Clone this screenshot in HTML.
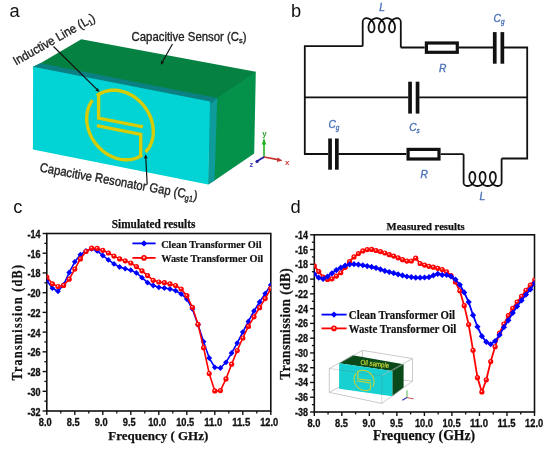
<!DOCTYPE html>
<html><head><meta charset="utf-8"><title>Figure</title>
<style>html,body{margin:0;padding:0;background:#fff;} svg{display:block;}</style></head>
<body><svg width="550" height="451" viewBox="0 0 550 451">
<rect width="550" height="451" fill="#fff"/>
<text x="9.6" y="17" font-family="'Liberation Sans', Arial, sans-serif" font-size="18.3" fill="#111">a</text>
<text x="291" y="17" font-family="'Liberation Sans', Arial, sans-serif" font-size="18.3" fill="#111">b</text>
<text x="13.2" y="212.8" font-family="'Liberation Sans', Arial, sans-serif" font-size="18.3" fill="#111">c</text>
<text x="290.6" y="212.8" font-family="'Liberation Sans', Arial, sans-serif" font-size="18.3" fill="#111">d</text>
<polygon points="208.2,184.6 210,101.4 214,96.4 250,72.6 255.8,71.8 254.2,153.6 214.6,180.6" fill="#04924a"/>
<polygon points="33.1,66.8 40.4,63.2 81.3,39.2 255.8,71.8 217.2,97.9 210,101.4" fill="#058242"/>
<polygon points="209,102 210,101.4 217.2,97.9 214.6,180.6 208.2,184.6" fill="#0d9b9b"/>
<polygon points="33.1,66.8 40.4,63.2 217.2,97.9 212,103 33.1,69" fill="#0b8083"/>
<polygon points="33.1,66.8 210,101.4 208.2,184.6 32.9,149.5" fill="#02d3d5"/>
<g fill="none" stroke="#d6cc08" stroke-width="3.4" stroke-linejoin="miter" stroke-linecap="butt">
<path d="M96.87,95.84 L98.11,94.91 L99.41,94.06 L100.76,93.29 L102.16,92.61 L103.61,92 L105.09,91.48 L106.62,91.05 L108.18,90.7 L109.77,90.44 L111.39,90.27 L113.02,90.18 L114.68,90.19 L116.35,90.29 L118.03,90.47 L119.71,90.74 L121.4,91.11 L123.08,91.55 L124.75,92.09 L126.42,92.7 L128.06,93.4 L129.68,94.19 L131.28,95.05 L132.85,95.98 L134.39,96.99 L135.89,98.08 L137.35,99.23 L138.77,100.45 L140.14,101.73 L141.45,103.07 L142.71,104.46 L143.92,105.91 L145.06,107.41 L146.13,108.95 L147.15,110.54 L148.09,112.16 L148.96,113.81 L149.75,115.5 L150.47,117.2 L151.11,118.93 L151.67,120.67 L152.15,122.43 L152.55,124.19 L152.86,125.95 L153.09,127.71 L153.24,129.46 L153.3,131.2 L153.27,132.93 L153.16,134.63 L152.97,136.31 L152.69,137.97 L152.32,139.58 L151.88,141.17 L151.35,142.71 L150.74,144.2 L150.06,145.64 L149.29,147.04 L148.45,148.37 L147.54,149.65 L146.56,150.86 L145.51,152.01"/>
<path d="M98.6,93.58 L98.6,118.18 L143,126.93"/>
<path d="M96.8,125.63 L140.7,134.28 L140.7,156.87"/>
<path d="M92.56,100.22 L91.68,101.43 L90.87,102.7 L90.12,104.01 L89.45,105.38 L88.84,106.79 L88.31,108.24 L87.86,109.73 L87.47,111.26 L87.17,112.82 L86.94,114.41 L86.78,116.02 L86.71,117.66 L86.71,119.31 L86.79,120.97 L86.95,122.65 L87.18,124.33 L87.49,126.01 L87.88,127.68 L88.34,129.36 L88.87,131.02 L89.48,132.67 L90.16,134.3 L90.91,135.91 L91.72,137.49 L92.6,139.04 L93.55,140.56 L94.55,142.05 L95.62,143.49 L96.74,144.9 L97.92,146.25 L99.15,147.56 L100.43,148.81 L101.75,150.01 L103.11,151.15 L104.52,152.23 L105.96,153.24 L107.43,154.19 L108.93,155.08 L110.46,155.89 L112.01,156.63 L113.58,157.29 L115.17,157.89 L116.76,158.4 L118.36,158.84 L119.97,159.19 L121.58,159.47 L123.18,159.67 L124.78,159.79 L126.36,159.82 L127.93,159.78 L129.48,159.65 L131.01,159.45 L132.52,159.16 L133.99,158.79 L135.43,158.35 L136.84,157.82 L138.2,157.22 L139.53,156.55 L140.81,155.8 L142.04,154.98"/>
</g>
<line x1="53.5" y1="46.5" x2="96.66" y2="89.19" stroke="#111" stroke-width="1.2"/>
<polygon points="99.5,92 95.39,90.47 97.92,87.91" fill="#111"/>
<line x1="172.5" y1="44" x2="162.76" y2="61.31" stroke="#111" stroke-width="1.2"/>
<polygon points="160.8,64.8 161.19,60.43 164.33,62.2" fill="#111"/>
<line x1="147.2" y1="184.5" x2="145.81" y2="158.29" stroke="#111" stroke-width="1.2"/>
<polygon points="145.6,154.3 147.61,158.2 144.01,158.39" fill="#111"/>
<text transform="translate(16.0,65.6) rotate(-29.5)" font-family="'Liberation Sans', Arial, sans-serif" font-size="12.5" fill="#222" stroke="#222" stroke-width="0.35" textLength="92" lengthAdjust="spacingAndGlyphs">Inductive Line (L<tspan font-size="8" dy="2">1</tspan><tspan dy="-2">)</tspan></text>
<text x="131.5" y="41.2" font-family="'Liberation Sans', Arial, sans-serif" font-size="12.4" fill="#222" stroke="#222" stroke-width="0.35" textLength="115" lengthAdjust="spacingAndGlyphs">Capacitive Sensor (C<tspan font-size="8" dy="2">s</tspan><tspan dy="-2">)</tspan></text>
<text transform="translate(39.2,171.6) rotate(10.3)" font-family="'Liberation Sans', Arial, sans-serif" font-size="13" fill="#222" stroke="#222" stroke-width="0.35" textLength="160" lengthAdjust="spacingAndGlyphs">Capacitive Resonator Gap (C<tspan font-size="8.5" dy="2.5">g1</tspan><tspan dy="-2.5">)</tspan></text>
<g>
<line x1="264" y1="157" x2="264" y2="144" stroke="#22b022" stroke-width="1.6"/>
<polygon points="264,137.8 261.8,144.5 266.2,144.5" fill="#22b022"/>
<line x1="264" y1="157" x2="278" y2="159.6" stroke="#c83030" stroke-width="1.6"/>
<polygon points="282.5,160.5 277.5,157.6 277,162" fill="#c83030"/>
<line x1="264" y1="157" x2="257" y2="161.3" stroke="#2020a0" stroke-width="1.8"/>
<circle cx="257" cy="161.5" r="1.6" fill="#2020a0"/>
<text x="262.3" y="136.3" font-family="'Liberation Sans', Arial, sans-serif" font-size="8" font-weight="bold" fill="#30a030">y</text>
<text x="285" y="164.8" font-family="'Liberation Sans', Arial, sans-serif" font-size="8" font-weight="bold" fill="#d84040">x</text>
<text x="249.6" y="167.2" font-family="'Liberation Sans', Arial, sans-serif" font-size="7.5" font-weight="bold" fill="#4040d0">z</text>
</g>
<g fill="none" stroke="#111" stroke-width="1.8" stroke-linejoin="miter">
<path d="M362.7,46.2 L304.8,46.2 L304.8,154 L328.2,154"/>

<path d="M362.7,46.2 L362.7,21.88 C362.7,19.85 364.35,18.2 366.38,18.2 L366.92,18.22 L367.46,18.29 L368,18.39 L368.53,18.55 L369.04,18.74 L369.55,18.97 L370.04,19.24 L370.52,19.55 L370.97,19.89 L371.4,20.26 L371.81,20.67 L372.2,21.11 L372.56,21.57 L372.89,22.05 L373.19,22.55 L373.47,23.07 L373.71,23.6 L373.92,24.15 L374.09,24.7 L374.24,25.25 L374.35,25.8 L374.43,26.35 L374.48,26.9 L374.49,27.43 L374.47,27.95 L374.43,28.45 L374.35,28.93 L374.25,29.39 L374.12,29.83 L373.97,30.24 L373.79,30.61 L373.59,30.95 L373.37,31.26 L373.14,31.53 L372.89,31.76 L372.63,31.95 L372.35,32.11 L372.07,32.21 L371.79,32.28 L371.5,32.3 L371.21,32.28 L370.93,32.21 L370.65,32.11 L370.37,31.95 L370.11,31.76 L369.86,31.53 L369.63,31.26 L369.41,30.95 L369.21,30.61 L369.03,30.24 L368.88,29.83 L368.75,29.39 L368.65,28.93 L368.57,28.45 L368.53,27.95 L368.51,27.43 L368.52,26.9 L368.57,26.35 L368.65,25.8 L368.76,25.25 L368.91,24.7 L369.08,24.15 L369.29,23.6 L369.53,23.07 L369.81,22.55 L370.11,22.05 L370.44,21.57 L370.8,21.11 L371.19,20.67 L371.6,20.26 L372.03,19.89 L372.48,19.55 L372.96,19.24 L373.45,18.97 L373.96,18.74 L374.47,18.55 L375,18.39 L375.54,18.29 L376.08,18.22 L376.62,18.2 L377.17,18.22 L377.71,18.29 L378.25,18.39 L378.78,18.55 L379.29,18.74 L379.8,18.97 L380.29,19.24 L380.77,19.55 L381.22,19.89 L381.65,20.26 L382.06,20.67 L382.45,21.11 L382.81,21.57 L383.14,22.05 L383.44,22.55 L383.72,23.07 L383.96,23.6 L384.17,24.15 L384.34,24.7 L384.49,25.25 L384.6,25.8 L384.68,26.35 L384.73,26.9 L384.74,27.43 L384.72,27.95 L384.68,28.45 L384.6,28.93 L384.5,29.39 L384.37,29.83 L384.22,30.24 L384.04,30.61 L383.84,30.95 L383.62,31.26 L383.39,31.53 L383.14,31.76 L382.88,31.95 L382.6,32.11 L382.32,32.21 L382.04,32.28 L381.75,32.3 L381.46,32.28 L381.18,32.21 L380.9,32.11 L380.62,31.95 L380.36,31.76 L380.11,31.53 L379.88,31.26 L379.66,30.95 L379.46,30.61 L379.28,30.24 L379.13,29.83 L379,29.39 L378.9,28.93 L378.82,28.45 L378.78,27.95 L378.76,27.43 L378.77,26.9 L378.82,26.35 L378.9,25.8 L379.01,25.25 L379.16,24.7 L379.33,24.15 L379.54,23.6 L379.78,23.07 L380.06,22.55 L380.36,22.05 L380.69,21.57 L381.05,21.11 L381.44,20.67 L381.85,20.26 L382.28,19.89 L382.73,19.55 L383.21,19.24 L383.7,18.97 L384.21,18.74 L384.72,18.55 L385.25,18.39 L385.79,18.29 L386.33,18.22 L386.88,18.2 L387.42,18.22 L387.96,18.29 L388.5,18.39 L389.03,18.55 L389.54,18.74 L390.05,18.97 L390.54,19.24 L391.02,19.55 L391.47,19.89 L391.9,20.26 L392.31,20.67 L392.7,21.11 L393.06,21.57 L393.39,22.05 L393.69,22.55 L393.97,23.07 L394.21,23.6 L394.42,24.15 L394.59,24.7 L394.74,25.25 L394.85,25.8 L394.93,26.35 L394.98,26.9 L394.99,27.43 L394.97,27.95 L394.93,28.45 L394.85,28.93 L394.75,29.39 L394.62,29.83 L394.47,30.24 L394.29,30.61 L394.09,30.95 L393.87,31.26 L393.64,31.53 L393.39,31.76 L393.13,31.95 L392.85,32.11 L392.57,32.21 L392.29,32.28 L392,32.3 L391.71,32.28 L391.43,32.21 L391.15,32.11 L390.87,31.95 L390.61,31.76 L390.36,31.53 L390.13,31.26 L389.91,30.95 L389.71,30.61 L389.53,30.24 L389.38,29.83 L389.25,29.39 L389.15,28.93 L389.07,28.45 L389.03,27.95 L389.01,27.43 L389.02,26.9 L389.07,26.35 L389.15,25.8 L389.26,25.25 L389.41,24.7 L389.58,24.15 L389.79,23.6 L390.03,23.07 L390.31,22.55 L390.61,22.05 L390.94,21.57 L391.3,21.11 L391.69,20.67 L392.1,20.26 L392.53,19.89 L392.98,19.55 L393.46,19.24 L393.95,18.97 L394.46,18.74 L394.97,18.55 L395.5,18.39 L396.04,18.29 L396.58,18.22 L397.12,18.2 C399.15,18.2 400.8,19.85 400.8,21.88 L400.8,47.5"/>
<path d="M400.8,47.5 L424.7,47.5 M459,47.5 L493.5,47.5 M504,47.5 L527.2,47.5 L527.2,158.5 L501.6,158.5"/>
<path d="M304.8,97.4 L408.5,97.4 M419.2,97.4 L527.2,97.4"/>
<path d="M338.4,154 L406.4,154 M440.7,154.2 L463.6,154.2"/>
<path d="M463.6,154.2 L463.6,182.38 C463.6,184.38 465.22,186 467.23,186 L467.77,185.98 L468.31,185.91 L468.85,185.81 L469.38,185.65 L469.89,185.46 L470.4,185.23 L470.89,184.96 L471.37,184.65 L471.82,184.31 L472.25,183.94 L472.66,183.53 L473.05,183.09 L473.41,182.63 L473.74,182.15 L474.04,181.65 L474.32,181.13 L474.56,180.6 L474.77,180.05 L474.94,179.5 L475.09,178.95 L475.2,178.4 L475.28,177.85 L475.33,177.3 L475.34,176.77 L475.32,176.25 L475.28,175.75 L475.2,175.27 L475.1,174.81 L474.97,174.37 L474.82,173.96 L474.64,173.59 L474.44,173.25 L474.22,172.94 L473.99,172.67 L473.74,172.44 L473.48,172.25 L473.2,172.09 L472.92,171.99 L472.64,171.92 L472.35,171.9 L472.06,171.92 L471.78,171.99 L471.5,172.09 L471.22,172.25 L470.96,172.44 L470.71,172.67 L470.48,172.94 L470.26,173.25 L470.06,173.59 L469.88,173.96 L469.73,174.37 L469.6,174.81 L469.5,175.27 L469.42,175.75 L469.38,176.25 L469.36,176.77 L469.37,177.3 L469.42,177.85 L469.5,178.4 L469.61,178.95 L469.76,179.5 L469.93,180.05 L470.14,180.6 L470.38,181.13 L470.66,181.65 L470.96,182.15 L471.29,182.63 L471.65,183.09 L472.04,183.53 L472.45,183.94 L472.88,184.31 L473.33,184.65 L473.81,184.96 L474.3,185.23 L474.81,185.46 L475.32,185.65 L475.85,185.81 L476.39,185.91 L476.93,185.98 L477.48,186 L478.02,185.98 L478.56,185.91 L479.1,185.81 L479.63,185.65 L480.14,185.46 L480.65,185.23 L481.14,184.96 L481.62,184.65 L482.07,184.31 L482.5,183.94 L482.91,183.53 L483.3,183.09 L483.66,182.63 L483.99,182.15 L484.29,181.65 L484.57,181.13 L484.81,180.6 L485.02,180.05 L485.19,179.5 L485.34,178.95 L485.45,178.4 L485.53,177.85 L485.58,177.3 L485.59,176.77 L485.57,176.25 L485.53,175.75 L485.45,175.27 L485.35,174.81 L485.22,174.37 L485.07,173.96 L484.89,173.59 L484.69,173.25 L484.47,172.94 L484.24,172.67 L483.99,172.44 L483.73,172.25 L483.45,172.09 L483.17,171.99 L482.89,171.92 L482.6,171.9 L482.31,171.92 L482.03,171.99 L481.75,172.09 L481.47,172.25 L481.21,172.44 L480.96,172.67 L480.73,172.94 L480.51,173.25 L480.31,173.59 L480.13,173.96 L479.98,174.37 L479.85,174.81 L479.75,175.27 L479.67,175.75 L479.63,176.25 L479.61,176.77 L479.62,177.3 L479.67,177.85 L479.75,178.4 L479.86,178.95 L480.01,179.5 L480.18,180.05 L480.39,180.6 L480.63,181.13 L480.91,181.65 L481.21,182.15 L481.54,182.63 L481.9,183.09 L482.29,183.53 L482.7,183.94 L483.13,184.31 L483.58,184.65 L484.06,184.96 L484.55,185.23 L485.06,185.46 L485.57,185.65 L486.1,185.81 L486.64,185.91 L487.18,185.98 L487.73,186 L488.27,185.98 L488.81,185.91 L489.35,185.81 L489.88,185.65 L490.39,185.46 L490.9,185.23 L491.39,184.96 L491.87,184.65 L492.32,184.31 L492.75,183.94 L493.16,183.53 L493.55,183.09 L493.91,182.63 L494.24,182.15 L494.54,181.65 L494.82,181.13 L495.06,180.6 L495.27,180.05 L495.44,179.5 L495.59,178.95 L495.7,178.4 L495.78,177.85 L495.83,177.3 L495.84,176.77 L495.82,176.25 L495.78,175.75 L495.7,175.27 L495.6,174.81 L495.47,174.37 L495.32,173.96 L495.14,173.59 L494.94,173.25 L494.72,172.94 L494.49,172.67 L494.24,172.44 L493.98,172.25 L493.7,172.09 L493.42,171.99 L493.14,171.92 L492.85,171.9 L492.56,171.92 L492.28,171.99 L492,172.09 L491.72,172.25 L491.46,172.44 L491.21,172.67 L490.98,172.94 L490.76,173.25 L490.56,173.59 L490.38,173.96 L490.23,174.37 L490.1,174.81 L490,175.27 L489.92,175.75 L489.88,176.25 L489.86,176.77 L489.87,177.3 L489.92,177.85 L490,178.4 L490.11,178.95 L490.26,179.5 L490.43,180.05 L490.64,180.6 L490.88,181.13 L491.16,181.65 L491.46,182.15 L491.79,182.63 L492.15,183.09 L492.54,183.53 L492.95,183.94 L493.38,184.31 L493.83,184.65 L494.31,184.96 L494.8,185.23 L495.31,185.46 L495.82,185.65 L496.35,185.81 L496.89,185.91 L497.43,185.98 L497.98,186 C499.98,186 501.6,184.38 501.6,182.38 L501.6,158.5"/>
</g>
<rect x="426.4" y="43.0" width="30.9" height="9.3" fill="#fff" stroke="#111" stroke-width="3.2"/>
<rect x="408.1" y="149.4" width="30.9" height="9.6" fill="#fff" stroke="#111" stroke-width="3.2"/>
<rect x="492.9" y="32.1" width="3.7" height="31.6" fill="#111"/>
<rect x="500.5" y="32.1" width="3.7" height="31.6" fill="#111"/>
<rect x="408.2" y="81.7" width="3.7" height="31.9" fill="#111"/>
<rect x="415.7" y="81.7" width="3.7" height="31.9" fill="#111"/>
<rect x="328.2" y="138.5" width="3.7" height="31.2" fill="#111"/>
<rect x="335.0" y="138.5" width="3.7" height="31.2" fill="#111"/>
<text x="379.2" y="10.8" font-family="'Liberation Sans', Arial, sans-serif" font-style="italic" font-size="10.2" fill="#4a72b8" stroke="#4a72b8" stroke-width="0.35">L</text>
<text x="439.0" y="72.4" font-family="'Liberation Sans', Arial, sans-serif" font-style="italic" font-size="10.2" fill="#4a72b8" stroke="#4a72b8" stroke-width="0.35">R</text>
<text x="493.6" y="21.6" font-family="'Liberation Sans', Arial, sans-serif" font-style="italic" font-size="10.2" fill="#4a72b8" stroke="#4a72b8" stroke-width="0.35">C<tspan font-size="6.3" dy="2">g</tspan></text>
<text x="409.2" y="131.2" font-family="'Liberation Sans', Arial, sans-serif" font-style="italic" font-size="10.2" fill="#4a72b8" stroke="#4a72b8" stroke-width="0.35">C<tspan font-size="6.3" dy="2">s</tspan></text>
<text x="328.4" y="128.4" font-family="'Liberation Sans', Arial, sans-serif" font-style="italic" font-size="10.2" fill="#4a72b8" stroke="#4a72b8" stroke-width="0.35">C<tspan font-size="6.3" dy="2">g</tspan></text>
<text x="420.6" y="178.4" font-family="'Liberation Sans', Arial, sans-serif" font-style="italic" font-size="10.2" fill="#4a72b8" stroke="#4a72b8" stroke-width="0.35">R</text>
<text x="479.6" y="200.2" font-family="'Liberation Sans', Arial, sans-serif" font-style="italic" font-size="10.2" fill="#4a72b8" stroke="#4a72b8" stroke-width="0.35">L</text>
<line x1="42.6" y1="233.5" x2="46.8" y2="233.5" stroke="#111" stroke-width="1.4"/>
<text x="40.5" y="238" text-anchor="end" font-family="'Liberation Sans', Arial, sans-serif" font-weight="bold" font-size="10" fill="#111" stroke="#111" stroke-width="0.3" textLength="13.01" lengthAdjust="spacingAndGlyphs">-14</text>
<line x1="44.4" y1="243.36" x2="46.8" y2="243.36" stroke="#111" stroke-width="1.3"/>
<line x1="42.6" y1="253.22" x2="46.8" y2="253.22" stroke="#111" stroke-width="1.4"/>
<text x="40.5" y="257.72" text-anchor="end" font-family="'Liberation Sans', Arial, sans-serif" font-weight="bold" font-size="10" fill="#111" stroke="#111" stroke-width="0.3" textLength="13.01" lengthAdjust="spacingAndGlyphs">-16</text>
<line x1="44.4" y1="263.08" x2="46.8" y2="263.08" stroke="#111" stroke-width="1.3"/>
<line x1="42.6" y1="272.94" x2="46.8" y2="272.94" stroke="#111" stroke-width="1.4"/>
<text x="40.5" y="277.44" text-anchor="end" font-family="'Liberation Sans', Arial, sans-serif" font-weight="bold" font-size="10" fill="#111" stroke="#111" stroke-width="0.3" textLength="13.01" lengthAdjust="spacingAndGlyphs">-18</text>
<line x1="44.4" y1="282.81" x2="46.8" y2="282.81" stroke="#111" stroke-width="1.3"/>
<line x1="42.6" y1="292.67" x2="46.8" y2="292.67" stroke="#111" stroke-width="1.4"/>
<text x="40.5" y="297.17" text-anchor="end" font-family="'Liberation Sans', Arial, sans-serif" font-weight="bold" font-size="10" fill="#111" stroke="#111" stroke-width="0.3" textLength="13.01" lengthAdjust="spacingAndGlyphs">-20</text>
<line x1="44.4" y1="302.53" x2="46.8" y2="302.53" stroke="#111" stroke-width="1.3"/>
<line x1="42.6" y1="312.39" x2="46.8" y2="312.39" stroke="#111" stroke-width="1.4"/>
<text x="40.5" y="316.89" text-anchor="end" font-family="'Liberation Sans', Arial, sans-serif" font-weight="bold" font-size="10" fill="#111" stroke="#111" stroke-width="0.3" textLength="13.01" lengthAdjust="spacingAndGlyphs">-22</text>
<line x1="44.4" y1="322.25" x2="46.8" y2="322.25" stroke="#111" stroke-width="1.3"/>
<line x1="42.6" y1="332.11" x2="46.8" y2="332.11" stroke="#111" stroke-width="1.4"/>
<text x="40.5" y="336.61" text-anchor="end" font-family="'Liberation Sans', Arial, sans-serif" font-weight="bold" font-size="10" fill="#111" stroke="#111" stroke-width="0.3" textLength="13.01" lengthAdjust="spacingAndGlyphs">-24</text>
<line x1="44.4" y1="341.97" x2="46.8" y2="341.97" stroke="#111" stroke-width="1.3"/>
<line x1="42.6" y1="351.83" x2="46.8" y2="351.83" stroke="#111" stroke-width="1.4"/>
<text x="40.5" y="356.33" text-anchor="end" font-family="'Liberation Sans', Arial, sans-serif" font-weight="bold" font-size="10" fill="#111" stroke="#111" stroke-width="0.3" textLength="13.01" lengthAdjust="spacingAndGlyphs">-26</text>
<line x1="44.4" y1="361.69" x2="46.8" y2="361.69" stroke="#111" stroke-width="1.3"/>
<line x1="42.6" y1="371.56" x2="46.8" y2="371.56" stroke="#111" stroke-width="1.4"/>
<text x="40.5" y="376.06" text-anchor="end" font-family="'Liberation Sans', Arial, sans-serif" font-weight="bold" font-size="10" fill="#111" stroke="#111" stroke-width="0.3" textLength="13.01" lengthAdjust="spacingAndGlyphs">-28</text>
<line x1="44.4" y1="381.42" x2="46.8" y2="381.42" stroke="#111" stroke-width="1.3"/>
<line x1="42.6" y1="391.28" x2="46.8" y2="391.28" stroke="#111" stroke-width="1.4"/>
<text x="40.5" y="395.78" text-anchor="end" font-family="'Liberation Sans', Arial, sans-serif" font-weight="bold" font-size="10" fill="#111" stroke="#111" stroke-width="0.3" textLength="13.01" lengthAdjust="spacingAndGlyphs">-30</text>
<line x1="44.4" y1="401.14" x2="46.8" y2="401.14" stroke="#111" stroke-width="1.3"/>
<line x1="42.6" y1="411" x2="46.8" y2="411" stroke="#111" stroke-width="1.4"/>
<text x="40.5" y="415.5" text-anchor="end" font-family="'Liberation Sans', Arial, sans-serif" font-weight="bold" font-size="10" fill="#111" stroke="#111" stroke-width="0.3" textLength="13.01" lengthAdjust="spacingAndGlyphs">-32</text>
<line x1="46.8" y1="411" x2="46.8" y2="415" stroke="#111" stroke-width="1.4"/>
<text x="45.2" y="426" text-anchor="middle" font-family="'Liberation Sans', Arial, sans-serif" font-weight="bold" font-size="10" fill="#111" stroke="#111" stroke-width="0.3" textLength="12.93" lengthAdjust="spacingAndGlyphs">8.0</text>
<line x1="60.8" y1="411" x2="60.8" y2="413.4" stroke="#111" stroke-width="1.3"/>
<line x1="74.8" y1="411" x2="74.8" y2="415" stroke="#111" stroke-width="1.4"/>
<text x="73.2" y="426" text-anchor="middle" font-family="'Liberation Sans', Arial, sans-serif" font-weight="bold" font-size="10" fill="#111" stroke="#111" stroke-width="0.3" textLength="12.93" lengthAdjust="spacingAndGlyphs">8.5</text>
<line x1="88.8" y1="411" x2="88.8" y2="413.4" stroke="#111" stroke-width="1.3"/>
<line x1="102.8" y1="411" x2="102.8" y2="415" stroke="#111" stroke-width="1.4"/>
<text x="101.2" y="426" text-anchor="middle" font-family="'Liberation Sans', Arial, sans-serif" font-weight="bold" font-size="10" fill="#111" stroke="#111" stroke-width="0.3" textLength="12.93" lengthAdjust="spacingAndGlyphs">9.0</text>
<line x1="116.8" y1="411" x2="116.8" y2="413.4" stroke="#111" stroke-width="1.3"/>
<line x1="130.8" y1="411" x2="130.8" y2="415" stroke="#111" stroke-width="1.4"/>
<text x="129.2" y="426" text-anchor="middle" font-family="'Liberation Sans', Arial, sans-serif" font-weight="bold" font-size="10" fill="#111" stroke="#111" stroke-width="0.3" textLength="12.93" lengthAdjust="spacingAndGlyphs">9.5</text>
<line x1="144.8" y1="411" x2="144.8" y2="413.4" stroke="#111" stroke-width="1.3"/>
<line x1="158.8" y1="411" x2="158.8" y2="415" stroke="#111" stroke-width="1.4"/>
<text x="157.2" y="426" text-anchor="middle" font-family="'Liberation Sans', Arial, sans-serif" font-weight="bold" font-size="10" fill="#111" stroke="#111" stroke-width="0.3" textLength="18.1" lengthAdjust="spacingAndGlyphs">10.0</text>
<line x1="172.8" y1="411" x2="172.8" y2="413.4" stroke="#111" stroke-width="1.3"/>
<line x1="186.8" y1="411" x2="186.8" y2="415" stroke="#111" stroke-width="1.4"/>
<text x="185.2" y="426" text-anchor="middle" font-family="'Liberation Sans', Arial, sans-serif" font-weight="bold" font-size="10" fill="#111" stroke="#111" stroke-width="0.3" textLength="18.1" lengthAdjust="spacingAndGlyphs">10.5</text>
<line x1="200.8" y1="411" x2="200.8" y2="413.4" stroke="#111" stroke-width="1.3"/>
<line x1="214.8" y1="411" x2="214.8" y2="415" stroke="#111" stroke-width="1.4"/>
<text x="213.2" y="426" text-anchor="middle" font-family="'Liberation Sans', Arial, sans-serif" font-weight="bold" font-size="10" fill="#111" stroke="#111" stroke-width="0.3" textLength="18.1" lengthAdjust="spacingAndGlyphs">11.0</text>
<line x1="228.8" y1="411" x2="228.8" y2="413.4" stroke="#111" stroke-width="1.3"/>
<line x1="242.8" y1="411" x2="242.8" y2="415" stroke="#111" stroke-width="1.4"/>
<text x="241.2" y="426" text-anchor="middle" font-family="'Liberation Sans', Arial, sans-serif" font-weight="bold" font-size="10" fill="#111" stroke="#111" stroke-width="0.3" textLength="18.1" lengthAdjust="spacingAndGlyphs">11.5</text>
<line x1="256.8" y1="411" x2="256.8" y2="413.4" stroke="#111" stroke-width="1.3"/>
<line x1="270.8" y1="411" x2="270.8" y2="415" stroke="#111" stroke-width="1.4"/>
<text x="269.2" y="426" text-anchor="middle" font-family="'Liberation Sans', Arial, sans-serif" font-weight="bold" font-size="10" fill="#111" stroke="#111" stroke-width="0.3" textLength="18.1" lengthAdjust="spacingAndGlyphs">12.0</text>
<rect x="46.8" y="233.5" width="224" height="177.5" fill="none" stroke="#111" stroke-width="1.6"/>
<text x="111.8" y="227.6" font-family="'Liberation Serif', 'Times New Roman', serif" font-weight="bold" font-size="12" fill="#111" stroke="#111" stroke-width="0.25" textLength="83.5" lengthAdjust="spacingAndGlyphs">Simulated results</text>
<text x="108.3" y="440.2" font-family="'Liberation Serif', 'Times New Roman', serif" font-weight="bold" font-size="13.5" fill="#111" stroke="#111" stroke-width="0.25" textLength="100" lengthAdjust="spacingAndGlyphs">Frequency ( GHz)</text>
<text transform="translate(22.3,322.8) rotate(-90) scale(0.86,1)" text-anchor="middle" font-family="'Liberation Serif', 'Times New Roman', serif" font-weight="bold" font-size="14" fill="#111" stroke="#111" stroke-width="0.25" textLength="134.3" lengthAdjust="spacing">Transmission (dB)</text>
<clipPath id="cc"><rect x="46.8" y="233.5" width="224" height="177.5"/></clipPath>
<g clip-path="url(#cc)">
<path d="M46.8,280.5 L52.4,288.2 L58,291.3 L63.6,284.8 L69.2,272.5 L74.8,261.8 L80.4,254.7 L86,250.9 L91.6,248.8 L97.2,250.9 L102.8,255.5 L108.4,259.9 L114,263.9 L119.6,267 L125.2,268.7 L130.8,270.2 L136.4,272.9 L142,277.7 L147.6,282.7 L153.2,285.5 L158.8,287.3 L164.4,288 L170,289 L175.6,290.7 L181.2,294 L186.8,299 L192.4,308.9 L198,324.8 L203.6,341.7 L209.2,358 L214.8,367.3 L220.4,368 L226,362.3 L231.6,353 L237.2,343.1 L242.8,332.1 L248.4,321.4 L254,311 L259.6,302 L265.2,293.6 L270.8,285" fill="none" stroke="#0000ff" stroke-width="1.6" stroke-linejoin="round"/>
<path d="M46.8,277.6 L49.7,280.5 L46.8,283.4 L43.9,280.5Z M52.4,285.3 L55.3,288.2 L52.4,291.1 L49.5,288.2Z M58,288.4 L60.9,291.3 L58,294.2 L55.1,291.3Z M63.6,281.9 L66.5,284.8 L63.6,287.7 L60.7,284.8Z M69.2,269.6 L72.1,272.5 L69.2,275.4 L66.3,272.5Z M74.8,258.9 L77.7,261.8 L74.8,264.7 L71.9,261.8Z M80.4,251.8 L83.3,254.7 L80.4,257.6 L77.5,254.7Z M86,248 L88.9,250.9 L86,253.8 L83.1,250.9Z M91.6,245.9 L94.5,248.8 L91.6,251.7 L88.7,248.8Z M97.2,248 L100.1,250.9 L97.2,253.8 L94.3,250.9Z M102.8,252.6 L105.7,255.5 L102.8,258.4 L99.9,255.5Z M108.4,257 L111.3,259.9 L108.4,262.8 L105.5,259.9Z M114,261 L116.9,263.9 L114,266.8 L111.1,263.9Z M119.6,264.1 L122.5,267 L119.6,269.9 L116.7,267Z M125.2,265.8 L128.1,268.7 L125.2,271.6 L122.3,268.7Z M130.8,267.3 L133.7,270.2 L130.8,273.1 L127.9,270.2Z M136.4,270 L139.3,272.9 L136.4,275.8 L133.5,272.9Z M142,274.8 L144.9,277.7 L142,280.6 L139.1,277.7Z M147.6,279.8 L150.5,282.7 L147.6,285.6 L144.7,282.7Z M153.2,282.6 L156.1,285.5 L153.2,288.4 L150.3,285.5Z M158.8,284.4 L161.7,287.3 L158.8,290.2 L155.9,287.3Z M164.4,285.1 L167.3,288 L164.4,290.9 L161.5,288Z M170,286.1 L172.9,289 L170,291.9 L167.1,289Z M175.6,287.8 L178.5,290.7 L175.6,293.6 L172.7,290.7Z M181.2,291.1 L184.1,294 L181.2,296.9 L178.3,294Z M186.8,296.1 L189.7,299 L186.8,301.9 L183.9,299Z M192.4,306 L195.3,308.9 L192.4,311.8 L189.5,308.9Z M198,321.9 L200.9,324.8 L198,327.7 L195.1,324.8Z M203.6,338.8 L206.5,341.7 L203.6,344.6 L200.7,341.7Z M209.2,355.1 L212.1,358 L209.2,360.9 L206.3,358Z M214.8,364.4 L217.7,367.3 L214.8,370.2 L211.9,367.3Z M220.4,365.1 L223.3,368 L220.4,370.9 L217.5,368Z M226,359.4 L228.9,362.3 L226,365.2 L223.1,362.3Z M231.6,350.1 L234.5,353 L231.6,355.9 L228.7,353Z M237.2,340.2 L240.1,343.1 L237.2,346 L234.3,343.1Z M242.8,329.2 L245.7,332.1 L242.8,335 L239.9,332.1Z M248.4,318.5 L251.3,321.4 L248.4,324.3 L245.5,321.4Z M254,308.1 L256.9,311 L254,313.9 L251.1,311Z M259.6,299.1 L262.5,302 L259.6,304.9 L256.7,302Z M265.2,290.7 L268.1,293.6 L265.2,296.5 L262.3,293.6Z M270.8,282.1 L273.7,285 L270.8,287.9 L267.9,285Z" fill="#0000ff"/>
</g>
<g clip-path="url(#cc)">
<path d="M46.8,277 L52.4,283.8 L58,286.5 L63.6,285.4 L69.2,279.2 L74.8,269.1 L80.4,258.9 L86,251.5 L91.6,248.2 L97.2,248.4 L102.8,250.3 L108.4,253 L114,256.1 L119.6,258.9 L125.2,260.8 L130.8,263 L136.4,266.6 L142,270.8 L147.6,275.6 L153.2,280.3 L158.8,282 L164.4,282.7 L170,283.9 L175.6,285.5 L181.2,289 L186.8,295.7 L192.4,307.3 L198,324.3 L203.6,347.7 L209.2,373.5 L214.8,390.9 L220.4,390.6 L226,378.9 L231.6,364.2 L237.2,350.6 L242.8,338 L248.4,326.4 L254,316.8 L259.6,307.7 L265.2,298.6 L270.8,288.4" fill="none" stroke="#ff0000" stroke-width="1.6" stroke-linejoin="round"/>
<circle cx="46.8" cy="277" r="2.6" fill="#ff0000"/><circle cx="46.4" cy="276.4" r="0.78" fill="#ffd8d8"/><circle cx="52.4" cy="283.8" r="2.6" fill="#ff0000"/><circle cx="52" cy="283.2" r="0.78" fill="#ffd8d8"/><circle cx="58" cy="286.5" r="2.6" fill="#ff0000"/><circle cx="57.6" cy="285.9" r="0.78" fill="#ffd8d8"/><circle cx="63.6" cy="285.4" r="2.6" fill="#ff0000"/><circle cx="63.2" cy="284.8" r="0.78" fill="#ffd8d8"/><circle cx="69.2" cy="279.2" r="2.6" fill="#ff0000"/><circle cx="68.8" cy="278.6" r="0.78" fill="#ffd8d8"/><circle cx="74.8" cy="269.1" r="2.6" fill="#ff0000"/><circle cx="74.4" cy="268.5" r="0.78" fill="#ffd8d8"/><circle cx="80.4" cy="258.9" r="2.6" fill="#ff0000"/><circle cx="80" cy="258.3" r="0.78" fill="#ffd8d8"/><circle cx="86" cy="251.5" r="2.6" fill="#ff0000"/><circle cx="85.6" cy="250.9" r="0.78" fill="#ffd8d8"/><circle cx="91.6" cy="248.2" r="2.6" fill="#ff0000"/><circle cx="91.2" cy="247.6" r="0.78" fill="#ffd8d8"/><circle cx="97.2" cy="248.4" r="2.6" fill="#ff0000"/><circle cx="96.8" cy="247.8" r="0.78" fill="#ffd8d8"/><circle cx="102.8" cy="250.3" r="2.6" fill="#ff0000"/><circle cx="102.4" cy="249.7" r="0.78" fill="#ffd8d8"/><circle cx="108.4" cy="253" r="2.6" fill="#ff0000"/><circle cx="108" cy="252.4" r="0.78" fill="#ffd8d8"/><circle cx="114" cy="256.1" r="2.6" fill="#ff0000"/><circle cx="113.6" cy="255.5" r="0.78" fill="#ffd8d8"/><circle cx="119.6" cy="258.9" r="2.6" fill="#ff0000"/><circle cx="119.2" cy="258.3" r="0.78" fill="#ffd8d8"/><circle cx="125.2" cy="260.8" r="2.6" fill="#ff0000"/><circle cx="124.8" cy="260.2" r="0.78" fill="#ffd8d8"/><circle cx="130.8" cy="263" r="2.6" fill="#ff0000"/><circle cx="130.4" cy="262.4" r="0.78" fill="#ffd8d8"/><circle cx="136.4" cy="266.6" r="2.6" fill="#ff0000"/><circle cx="136" cy="266" r="0.78" fill="#ffd8d8"/><circle cx="142" cy="270.8" r="2.6" fill="#ff0000"/><circle cx="141.6" cy="270.2" r="0.78" fill="#ffd8d8"/><circle cx="147.6" cy="275.6" r="2.6" fill="#ff0000"/><circle cx="147.2" cy="275" r="0.78" fill="#ffd8d8"/><circle cx="153.2" cy="280.3" r="2.6" fill="#ff0000"/><circle cx="152.8" cy="279.7" r="0.78" fill="#ffd8d8"/><circle cx="158.8" cy="282" r="2.6" fill="#ff0000"/><circle cx="158.4" cy="281.4" r="0.78" fill="#ffd8d8"/><circle cx="164.4" cy="282.7" r="2.6" fill="#ff0000"/><circle cx="164" cy="282.1" r="0.78" fill="#ffd8d8"/><circle cx="170" cy="283.9" r="2.6" fill="#ff0000"/><circle cx="169.6" cy="283.3" r="0.78" fill="#ffd8d8"/><circle cx="175.6" cy="285.5" r="2.6" fill="#ff0000"/><circle cx="175.2" cy="284.9" r="0.78" fill="#ffd8d8"/><circle cx="181.2" cy="289" r="2.6" fill="#ff0000"/><circle cx="180.8" cy="288.4" r="0.78" fill="#ffd8d8"/><circle cx="186.8" cy="295.7" r="2.6" fill="#ff0000"/><circle cx="186.4" cy="295.1" r="0.78" fill="#ffd8d8"/><circle cx="192.4" cy="307.3" r="2.6" fill="#ff0000"/><circle cx="192" cy="306.7" r="0.78" fill="#ffd8d8"/><circle cx="198" cy="324.3" r="2.6" fill="#ff0000"/><circle cx="197.6" cy="323.7" r="0.78" fill="#ffd8d8"/><circle cx="203.6" cy="347.7" r="2.6" fill="#ff0000"/><circle cx="203.2" cy="347.1" r="0.78" fill="#ffd8d8"/><circle cx="209.2" cy="373.5" r="2.6" fill="#ff0000"/><circle cx="208.8" cy="372.9" r="0.78" fill="#ffd8d8"/><circle cx="214.8" cy="390.9" r="2.6" fill="#ff0000"/><circle cx="214.4" cy="390.3" r="0.78" fill="#ffd8d8"/><circle cx="220.4" cy="390.6" r="2.6" fill="#ff0000"/><circle cx="220" cy="390" r="0.78" fill="#ffd8d8"/><circle cx="226" cy="378.9" r="2.6" fill="#ff0000"/><circle cx="225.6" cy="378.3" r="0.78" fill="#ffd8d8"/><circle cx="231.6" cy="364.2" r="2.6" fill="#ff0000"/><circle cx="231.2" cy="363.6" r="0.78" fill="#ffd8d8"/><circle cx="237.2" cy="350.6" r="2.6" fill="#ff0000"/><circle cx="236.8" cy="350" r="0.78" fill="#ffd8d8"/><circle cx="242.8" cy="338" r="2.6" fill="#ff0000"/><circle cx="242.4" cy="337.4" r="0.78" fill="#ffd8d8"/><circle cx="248.4" cy="326.4" r="2.6" fill="#ff0000"/><circle cx="248" cy="325.8" r="0.78" fill="#ffd8d8"/><circle cx="254" cy="316.8" r="2.6" fill="#ff0000"/><circle cx="253.6" cy="316.2" r="0.78" fill="#ffd8d8"/><circle cx="259.6" cy="307.7" r="2.6" fill="#ff0000"/><circle cx="259.2" cy="307.1" r="0.78" fill="#ffd8d8"/><circle cx="265.2" cy="298.6" r="2.6" fill="#ff0000"/><circle cx="264.8" cy="298" r="0.78" fill="#ffd8d8"/><circle cx="270.8" cy="288.4" r="2.6" fill="#ff0000"/><circle cx="270.4" cy="287.8" r="0.78" fill="#ffd8d8"/>
</g>
<line x1="132.4" y1="243.4" x2="155.6" y2="243.4" stroke="#0000ff" stroke-width="1.8"/>
<path d="M144,240.3 L147.1,243.4 L144,246.5 L140.9,243.4Z" fill="#0000ff"/>
<line x1="132.4" y1="257.9" x2="155.6" y2="257.9" stroke="#ff0000" stroke-width="1.8"/>
<circle cx="144" cy="257.9" r="2.8" fill="#ff0000"/><circle cx="144" cy="257.4" r="0.95" fill="#ffe4e4"/>
<text x="161.2" y="247.9" font-family="'Liberation Serif', 'Times New Roman', serif" font-weight="bold" font-size="11" fill="#111" stroke="#111" stroke-width="0.2" textLength="100.3" lengthAdjust="spacingAndGlyphs">Clean Transformer Oil</text>
<text x="161.2" y="262.4" font-family="'Liberation Serif', 'Times New Roman', serif" font-weight="bold" font-size="11" fill="#111" stroke="#111" stroke-width="0.2" textLength="102.0" lengthAdjust="spacingAndGlyphs">Waste Transformer Oil</text>
<line x1="310.1" y1="234.8" x2="314.3" y2="234.8" stroke="#111" stroke-width="1.4"/>
<text x="308" y="238.8" text-anchor="end" font-family="'Liberation Sans', Arial, sans-serif" font-weight="bold" font-size="10" fill="#111" stroke="#111" stroke-width="0.3" textLength="13.01" lengthAdjust="spacingAndGlyphs">-14</text>
<line x1="311.9" y1="242.18" x2="314.3" y2="242.18" stroke="#111" stroke-width="1.3"/>
<line x1="310.1" y1="249.57" x2="314.3" y2="249.57" stroke="#111" stroke-width="1.4"/>
<text x="308" y="253.57" text-anchor="end" font-family="'Liberation Sans', Arial, sans-serif" font-weight="bold" font-size="10" fill="#111" stroke="#111" stroke-width="0.3" textLength="13.01" lengthAdjust="spacingAndGlyphs">-16</text>
<line x1="311.9" y1="256.95" x2="314.3" y2="256.95" stroke="#111" stroke-width="1.3"/>
<line x1="310.1" y1="264.33" x2="314.3" y2="264.33" stroke="#111" stroke-width="1.4"/>
<text x="308" y="268.33" text-anchor="end" font-family="'Liberation Sans', Arial, sans-serif" font-weight="bold" font-size="10" fill="#111" stroke="#111" stroke-width="0.3" textLength="13.01" lengthAdjust="spacingAndGlyphs">-18</text>
<line x1="311.9" y1="271.72" x2="314.3" y2="271.72" stroke="#111" stroke-width="1.3"/>
<line x1="310.1" y1="279.1" x2="314.3" y2="279.1" stroke="#111" stroke-width="1.4"/>
<text x="308" y="283.1" text-anchor="end" font-family="'Liberation Sans', Arial, sans-serif" font-weight="bold" font-size="10" fill="#111" stroke="#111" stroke-width="0.3" textLength="13.01" lengthAdjust="spacingAndGlyphs">-20</text>
<line x1="311.9" y1="286.48" x2="314.3" y2="286.48" stroke="#111" stroke-width="1.3"/>
<line x1="310.1" y1="293.87" x2="314.3" y2="293.87" stroke="#111" stroke-width="1.4"/>
<text x="308" y="297.87" text-anchor="end" font-family="'Liberation Sans', Arial, sans-serif" font-weight="bold" font-size="10" fill="#111" stroke="#111" stroke-width="0.3" textLength="13.01" lengthAdjust="spacingAndGlyphs">-22</text>
<line x1="311.9" y1="301.25" x2="314.3" y2="301.25" stroke="#111" stroke-width="1.3"/>
<line x1="310.1" y1="308.63" x2="314.3" y2="308.63" stroke="#111" stroke-width="1.4"/>
<text x="308" y="312.63" text-anchor="end" font-family="'Liberation Sans', Arial, sans-serif" font-weight="bold" font-size="10" fill="#111" stroke="#111" stroke-width="0.3" textLength="13.01" lengthAdjust="spacingAndGlyphs">-24</text>
<line x1="311.9" y1="316.02" x2="314.3" y2="316.02" stroke="#111" stroke-width="1.3"/>
<line x1="310.1" y1="323.4" x2="314.3" y2="323.4" stroke="#111" stroke-width="1.4"/>
<text x="308" y="327.4" text-anchor="end" font-family="'Liberation Sans', Arial, sans-serif" font-weight="bold" font-size="10" fill="#111" stroke="#111" stroke-width="0.3" textLength="13.01" lengthAdjust="spacingAndGlyphs">-26</text>
<line x1="311.9" y1="330.78" x2="314.3" y2="330.78" stroke="#111" stroke-width="1.3"/>
<line x1="310.1" y1="338.17" x2="314.3" y2="338.17" stroke="#111" stroke-width="1.4"/>
<text x="308" y="342.17" text-anchor="end" font-family="'Liberation Sans', Arial, sans-serif" font-weight="bold" font-size="10" fill="#111" stroke="#111" stroke-width="0.3" textLength="13.01" lengthAdjust="spacingAndGlyphs">-28</text>
<line x1="311.9" y1="345.55" x2="314.3" y2="345.55" stroke="#111" stroke-width="1.3"/>
<line x1="310.1" y1="352.93" x2="314.3" y2="352.93" stroke="#111" stroke-width="1.4"/>
<text x="308" y="356.93" text-anchor="end" font-family="'Liberation Sans', Arial, sans-serif" font-weight="bold" font-size="10" fill="#111" stroke="#111" stroke-width="0.3" textLength="13.01" lengthAdjust="spacingAndGlyphs">-30</text>
<line x1="311.9" y1="360.32" x2="314.3" y2="360.32" stroke="#111" stroke-width="1.3"/>
<line x1="310.1" y1="367.7" x2="314.3" y2="367.7" stroke="#111" stroke-width="1.4"/>
<text x="308" y="371.7" text-anchor="end" font-family="'Liberation Sans', Arial, sans-serif" font-weight="bold" font-size="10" fill="#111" stroke="#111" stroke-width="0.3" textLength="13.01" lengthAdjust="spacingAndGlyphs">-32</text>
<line x1="311.9" y1="375.08" x2="314.3" y2="375.08" stroke="#111" stroke-width="1.3"/>
<line x1="310.1" y1="382.47" x2="314.3" y2="382.47" stroke="#111" stroke-width="1.4"/>
<text x="308" y="386.47" text-anchor="end" font-family="'Liberation Sans', Arial, sans-serif" font-weight="bold" font-size="10" fill="#111" stroke="#111" stroke-width="0.3" textLength="13.01" lengthAdjust="spacingAndGlyphs">-34</text>
<line x1="311.9" y1="389.85" x2="314.3" y2="389.85" stroke="#111" stroke-width="1.3"/>
<line x1="310.1" y1="397.23" x2="314.3" y2="397.23" stroke="#111" stroke-width="1.4"/>
<text x="308" y="401.23" text-anchor="end" font-family="'Liberation Sans', Arial, sans-serif" font-weight="bold" font-size="10" fill="#111" stroke="#111" stroke-width="0.3" textLength="13.01" lengthAdjust="spacingAndGlyphs">-36</text>
<line x1="311.9" y1="404.62" x2="314.3" y2="404.62" stroke="#111" stroke-width="1.3"/>
<line x1="310.1" y1="412" x2="314.3" y2="412" stroke="#111" stroke-width="1.4"/>
<text x="308" y="416" text-anchor="end" font-family="'Liberation Sans', Arial, sans-serif" font-weight="bold" font-size="10" fill="#111" stroke="#111" stroke-width="0.3" textLength="13.01" lengthAdjust="spacingAndGlyphs">-38</text>
<line x1="314.3" y1="412.0" x2="314.3" y2="416" stroke="#111" stroke-width="1.4"/>
<text x="313.9" y="427" text-anchor="middle" font-family="'Liberation Sans', Arial, sans-serif" font-weight="bold" font-size="10" fill="#111" stroke="#111" stroke-width="0.3" textLength="12.93" lengthAdjust="spacingAndGlyphs">8.0</text>
<line x1="328.06" y1="412.0" x2="328.06" y2="414.4" stroke="#111" stroke-width="1.3"/>
<line x1="341.82" y1="412.0" x2="341.82" y2="416" stroke="#111" stroke-width="1.4"/>
<text x="341.43" y="427" text-anchor="middle" font-family="'Liberation Sans', Arial, sans-serif" font-weight="bold" font-size="10" fill="#111" stroke="#111" stroke-width="0.3" textLength="12.93" lengthAdjust="spacingAndGlyphs">8.5</text>
<line x1="355.59" y1="412.0" x2="355.59" y2="414.4" stroke="#111" stroke-width="1.3"/>
<line x1="369.35" y1="412.0" x2="369.35" y2="416" stroke="#111" stroke-width="1.4"/>
<text x="368.95" y="427" text-anchor="middle" font-family="'Liberation Sans', Arial, sans-serif" font-weight="bold" font-size="10" fill="#111" stroke="#111" stroke-width="0.3" textLength="12.93" lengthAdjust="spacingAndGlyphs">9.0</text>
<line x1="383.11" y1="412.0" x2="383.11" y2="414.4" stroke="#111" stroke-width="1.3"/>
<line x1="396.88" y1="412.0" x2="396.88" y2="416" stroke="#111" stroke-width="1.4"/>
<text x="396.48" y="427" text-anchor="middle" font-family="'Liberation Sans', Arial, sans-serif" font-weight="bold" font-size="10" fill="#111" stroke="#111" stroke-width="0.3" textLength="12.93" lengthAdjust="spacingAndGlyphs">9.5</text>
<line x1="410.64" y1="412.0" x2="410.64" y2="414.4" stroke="#111" stroke-width="1.3"/>
<line x1="424.4" y1="412.0" x2="424.4" y2="416" stroke="#111" stroke-width="1.4"/>
<text x="424" y="427" text-anchor="middle" font-family="'Liberation Sans', Arial, sans-serif" font-weight="bold" font-size="10" fill="#111" stroke="#111" stroke-width="0.3" textLength="18.1" lengthAdjust="spacingAndGlyphs">10.0</text>
<line x1="438.16" y1="412.0" x2="438.16" y2="414.4" stroke="#111" stroke-width="1.3"/>
<line x1="451.93" y1="412.0" x2="451.93" y2="416" stroke="#111" stroke-width="1.4"/>
<text x="451.53" y="427" text-anchor="middle" font-family="'Liberation Sans', Arial, sans-serif" font-weight="bold" font-size="10" fill="#111" stroke="#111" stroke-width="0.3" textLength="18.1" lengthAdjust="spacingAndGlyphs">10.5</text>
<line x1="465.69" y1="412.0" x2="465.69" y2="414.4" stroke="#111" stroke-width="1.3"/>
<line x1="479.45" y1="412.0" x2="479.45" y2="416" stroke="#111" stroke-width="1.4"/>
<text x="479.05" y="427" text-anchor="middle" font-family="'Liberation Sans', Arial, sans-serif" font-weight="bold" font-size="10" fill="#111" stroke="#111" stroke-width="0.3" textLength="18.1" lengthAdjust="spacingAndGlyphs">11.0</text>
<line x1="493.21" y1="412.0" x2="493.21" y2="414.4" stroke="#111" stroke-width="1.3"/>
<line x1="506.98" y1="412.0" x2="506.98" y2="416" stroke="#111" stroke-width="1.4"/>
<text x="506.58" y="427" text-anchor="middle" font-family="'Liberation Sans', Arial, sans-serif" font-weight="bold" font-size="10" fill="#111" stroke="#111" stroke-width="0.3" textLength="18.1" lengthAdjust="spacingAndGlyphs">11.5</text>
<line x1="520.74" y1="412.0" x2="520.74" y2="414.4" stroke="#111" stroke-width="1.3"/>
<line x1="534.5" y1="412.0" x2="534.5" y2="416" stroke="#111" stroke-width="1.4"/>
<text x="534.1" y="427" text-anchor="middle" font-family="'Liberation Sans', Arial, sans-serif" font-weight="bold" font-size="10" fill="#111" stroke="#111" stroke-width="0.3" textLength="18.1" lengthAdjust="spacingAndGlyphs">12.0</text>
<rect x="314.3" y="234.8" width="220.2" height="177.2" fill="none" stroke="#111" stroke-width="1.6"/>
<text x="386.6" y="229.6" font-family="'Liberation Serif', 'Times New Roman', serif" font-weight="bold" font-size="11.2" fill="#111" stroke="#111" stroke-width="0.25" textLength="78" lengthAdjust="spacingAndGlyphs">Measured results</text>
<text x="372.9" y="440.3" font-family="'Liberation Serif', 'Times New Roman', serif" font-weight="bold" font-size="13.6" fill="#111" stroke="#111" stroke-width="0.25" textLength="102.3" lengthAdjust="spacingAndGlyphs">Frequency (GHz)</text>
<text transform="translate(289.6,324.0) rotate(-90) scale(0.97,1)" text-anchor="middle" font-family="'Liberation Serif', 'Times New Roman', serif" font-weight="bold" font-size="13.8" fill="#111" stroke="#111" stroke-width="0.25" textLength="114.85" lengthAdjust="spacing">Transmission (dB)</text>
<clipPath id="cd"><rect x="314.3" y="234.8" width="220.2" height="177.2"/></clipPath>
<g clip-path="url(#cd)">
<path d="M314.3,265.8 L318.71,271.57 L323.12,277.11 L327.53,279.4 L331.94,278.81 L336.35,276.03 L340.76,272.73 L345.17,267.36 L349.58,261.67 L353.99,256.91 L358.4,253.65 L362.81,250.96 L367.22,249.58 L371.63,249.38 L376.04,250.51 L380.45,251.62 L384.86,252.99 L389.27,254.69 L393.68,256.09 L398.09,257.78 L402.5,259.63 L406.91,261.1 L411.32,261 L415.73,258.14 L420.14,263.5 L424.55,265.06 L428.96,266.31 L433.37,267.22 L437.78,268.32 L442.19,269.6 L446.6,271.8 L451.01,275.61 L455.42,281.99 L459.83,290.75 L464.24,305.67 L468.65,324.59 L473.06,350.35 L477.47,377.64 L481.88,391.92 L486.29,379.81 L490.7,361.53 L495.11,346.75 L499.52,333.12 L503.93,323.98 L508.34,315.57 L512.75,308.3 L517.16,302.02 L521.57,296.45 L525.98,290.25 L530.39,285.2 L534.8,279.87" fill="none" stroke="#ff0000" stroke-width="1.8" stroke-linejoin="round"/>
<circle cx="314.3" cy="265.8" r="2.6" fill="#ff0000"/><circle cx="313.9" cy="265.2" r="0.78" fill="#ffd8d8"/><circle cx="318.71" cy="271.57" r="2.6" fill="#ff0000"/><circle cx="318.31" cy="270.97" r="0.78" fill="#ffd8d8"/><circle cx="323.12" cy="277.11" r="2.6" fill="#ff0000"/><circle cx="322.72" cy="276.51" r="0.78" fill="#ffd8d8"/><circle cx="327.53" cy="279.4" r="2.6" fill="#ff0000"/><circle cx="327.13" cy="278.8" r="0.78" fill="#ffd8d8"/><circle cx="331.94" cy="278.81" r="2.6" fill="#ff0000"/><circle cx="331.54" cy="278.21" r="0.78" fill="#ffd8d8"/><circle cx="336.35" cy="276.03" r="2.6" fill="#ff0000"/><circle cx="335.95" cy="275.43" r="0.78" fill="#ffd8d8"/><circle cx="340.76" cy="272.73" r="2.6" fill="#ff0000"/><circle cx="340.36" cy="272.13" r="0.78" fill="#ffd8d8"/><circle cx="345.17" cy="267.36" r="2.6" fill="#ff0000"/><circle cx="344.77" cy="266.76" r="0.78" fill="#ffd8d8"/><circle cx="349.58" cy="261.67" r="2.6" fill="#ff0000"/><circle cx="349.18" cy="261.07" r="0.78" fill="#ffd8d8"/><circle cx="353.99" cy="256.91" r="2.6" fill="#ff0000"/><circle cx="353.59" cy="256.31" r="0.78" fill="#ffd8d8"/><circle cx="358.4" cy="253.65" r="2.6" fill="#ff0000"/><circle cx="358" cy="253.05" r="0.78" fill="#ffd8d8"/><circle cx="362.81" cy="250.96" r="2.6" fill="#ff0000"/><circle cx="362.41" cy="250.36" r="0.78" fill="#ffd8d8"/><circle cx="367.22" cy="249.58" r="2.6" fill="#ff0000"/><circle cx="366.82" cy="248.98" r="0.78" fill="#ffd8d8"/><circle cx="371.63" cy="249.38" r="2.6" fill="#ff0000"/><circle cx="371.23" cy="248.78" r="0.78" fill="#ffd8d8"/><circle cx="376.04" cy="250.51" r="2.6" fill="#ff0000"/><circle cx="375.64" cy="249.91" r="0.78" fill="#ffd8d8"/><circle cx="380.45" cy="251.62" r="2.6" fill="#ff0000"/><circle cx="380.05" cy="251.02" r="0.78" fill="#ffd8d8"/><circle cx="384.86" cy="252.99" r="2.6" fill="#ff0000"/><circle cx="384.46" cy="252.39" r="0.78" fill="#ffd8d8"/><circle cx="389.27" cy="254.69" r="2.6" fill="#ff0000"/><circle cx="388.87" cy="254.09" r="0.78" fill="#ffd8d8"/><circle cx="393.68" cy="256.09" r="2.6" fill="#ff0000"/><circle cx="393.28" cy="255.49" r="0.78" fill="#ffd8d8"/><circle cx="398.09" cy="257.78" r="2.6" fill="#ff0000"/><circle cx="397.69" cy="257.18" r="0.78" fill="#ffd8d8"/><circle cx="402.5" cy="259.63" r="2.6" fill="#ff0000"/><circle cx="402.1" cy="259.03" r="0.78" fill="#ffd8d8"/><circle cx="406.91" cy="261.1" r="2.6" fill="#ff0000"/><circle cx="406.51" cy="260.5" r="0.78" fill="#ffd8d8"/><circle cx="411.32" cy="261" r="2.6" fill="#ff0000"/><circle cx="410.92" cy="260.4" r="0.78" fill="#ffd8d8"/><circle cx="415.73" cy="258.14" r="2.6" fill="#ff0000"/><circle cx="415.33" cy="257.54" r="0.78" fill="#ffd8d8"/><circle cx="420.14" cy="263.5" r="2.6" fill="#ff0000"/><circle cx="419.74" cy="262.9" r="0.78" fill="#ffd8d8"/><circle cx="424.55" cy="265.06" r="2.6" fill="#ff0000"/><circle cx="424.15" cy="264.46" r="0.78" fill="#ffd8d8"/><circle cx="428.96" cy="266.31" r="2.6" fill="#ff0000"/><circle cx="428.56" cy="265.71" r="0.78" fill="#ffd8d8"/><circle cx="433.37" cy="267.22" r="2.6" fill="#ff0000"/><circle cx="432.97" cy="266.62" r="0.78" fill="#ffd8d8"/><circle cx="437.78" cy="268.32" r="2.6" fill="#ff0000"/><circle cx="437.38" cy="267.72" r="0.78" fill="#ffd8d8"/><circle cx="442.19" cy="269.6" r="2.6" fill="#ff0000"/><circle cx="441.79" cy="269" r="0.78" fill="#ffd8d8"/><circle cx="446.6" cy="271.8" r="2.6" fill="#ff0000"/><circle cx="446.2" cy="271.2" r="0.78" fill="#ffd8d8"/><circle cx="451.01" cy="275.61" r="2.6" fill="#ff0000"/><circle cx="450.61" cy="275.01" r="0.78" fill="#ffd8d8"/><circle cx="455.42" cy="281.99" r="2.6" fill="#ff0000"/><circle cx="455.02" cy="281.39" r="0.78" fill="#ffd8d8"/><circle cx="459.83" cy="290.75" r="2.6" fill="#ff0000"/><circle cx="459.43" cy="290.15" r="0.78" fill="#ffd8d8"/><circle cx="464.24" cy="305.67" r="2.6" fill="#ff0000"/><circle cx="463.84" cy="305.07" r="0.78" fill="#ffd8d8"/><circle cx="468.65" cy="324.59" r="2.6" fill="#ff0000"/><circle cx="468.25" cy="323.99" r="0.78" fill="#ffd8d8"/><circle cx="473.06" cy="350.35" r="2.6" fill="#ff0000"/><circle cx="472.66" cy="349.75" r="0.78" fill="#ffd8d8"/><circle cx="477.47" cy="377.64" r="2.6" fill="#ff0000"/><circle cx="477.07" cy="377.04" r="0.78" fill="#ffd8d8"/><circle cx="481.88" cy="391.92" r="2.6" fill="#ff0000"/><circle cx="481.48" cy="391.32" r="0.78" fill="#ffd8d8"/><circle cx="486.29" cy="379.81" r="2.6" fill="#ff0000"/><circle cx="485.89" cy="379.21" r="0.78" fill="#ffd8d8"/><circle cx="490.7" cy="361.53" r="2.6" fill="#ff0000"/><circle cx="490.3" cy="360.93" r="0.78" fill="#ffd8d8"/><circle cx="495.11" cy="346.75" r="2.6" fill="#ff0000"/><circle cx="494.71" cy="346.15" r="0.78" fill="#ffd8d8"/><circle cx="499.52" cy="333.12" r="2.6" fill="#ff0000"/><circle cx="499.12" cy="332.52" r="0.78" fill="#ffd8d8"/><circle cx="503.93" cy="323.98" r="2.6" fill="#ff0000"/><circle cx="503.53" cy="323.38" r="0.78" fill="#ffd8d8"/><circle cx="508.34" cy="315.57" r="2.6" fill="#ff0000"/><circle cx="507.94" cy="314.97" r="0.78" fill="#ffd8d8"/><circle cx="512.75" cy="308.3" r="2.6" fill="#ff0000"/><circle cx="512.35" cy="307.7" r="0.78" fill="#ffd8d8"/><circle cx="517.16" cy="302.02" r="2.6" fill="#ff0000"/><circle cx="516.76" cy="301.42" r="0.78" fill="#ffd8d8"/><circle cx="521.57" cy="296.45" r="2.6" fill="#ff0000"/><circle cx="521.17" cy="295.85" r="0.78" fill="#ffd8d8"/><circle cx="525.98" cy="290.25" r="2.6" fill="#ff0000"/><circle cx="525.58" cy="289.65" r="0.78" fill="#ffd8d8"/><circle cx="530.39" cy="285.2" r="2.6" fill="#ff0000"/><circle cx="529.99" cy="284.6" r="0.78" fill="#ffd8d8"/><circle cx="534.8" cy="279.87" r="2.6" fill="#ff0000"/><circle cx="534.4" cy="279.27" r="0.78" fill="#ffd8d8"/>
</g>
<g clip-path="url(#cd)">
<path d="M314.3,274 L318.71,277.7 L323.12,278.99 L327.53,276.58 L331.94,273.34 L336.35,270.04 L340.76,267.72 L345.17,265.56 L349.58,264.43 L353.99,264.2 L358.4,264.58 L362.81,265.27 L367.22,266.07 L371.63,266.93 L376.04,267.94 L380.45,269.32 L384.86,270.88 L389.27,272.02 L393.68,273.1 L398.09,274.29 L402.5,275.4 L406.91,276.48 L411.32,277.05 L415.73,277.64 L420.14,277.7 L424.55,277.52 L428.96,277.18 L433.37,275.47 L437.78,273.82 L442.19,274.9 L446.6,275 L451.01,276.47 L455.42,279.48 L459.83,284.79 L464.24,292.44 L468.65,302.12 L473.06,315.18 L477.47,326.75 L481.88,336.14 L486.29,341.97 L490.7,344.26 L495.11,340.99 L499.52,334.91 L503.93,327.24 L508.34,320.33 L512.75,312.95 L517.16,306.29 L521.57,300.47 L525.98,294.53 L530.39,289.41 L534.8,282.99" fill="none" stroke="#0000ff" stroke-width="1.8" stroke-linejoin="round"/>
<path d="M314.3,270.9 L317.4,274 L314.3,277.1 L311.2,274Z M318.71,274.6 L321.81,277.7 L318.71,280.8 L315.61,277.7Z M323.12,275.89 L326.22,278.99 L323.12,282.09 L320.02,278.99Z M327.53,273.48 L330.63,276.58 L327.53,279.68 L324.43,276.58Z M331.94,270.24 L335.04,273.34 L331.94,276.44 L328.84,273.34Z M336.35,266.94 L339.45,270.04 L336.35,273.14 L333.25,270.04Z M340.76,264.62 L343.86,267.72 L340.76,270.82 L337.66,267.72Z M345.17,262.46 L348.27,265.56 L345.17,268.66 L342.07,265.56Z M349.58,261.33 L352.68,264.43 L349.58,267.53 L346.48,264.43Z M353.99,261.1 L357.09,264.2 L353.99,267.31 L350.89,264.2Z M358.4,261.48 L361.5,264.58 L358.4,267.68 L355.3,264.58Z M362.81,262.17 L365.91,265.27 L362.81,268.37 L359.71,265.27Z M367.22,262.97 L370.32,266.07 L367.22,269.17 L364.12,266.07Z M371.63,263.83 L374.73,266.93 L371.63,270.03 L368.53,266.93Z M376.04,264.84 L379.14,267.94 L376.04,271.04 L372.94,267.94Z M380.45,266.22 L383.55,269.32 L380.45,272.42 L377.35,269.32Z M384.86,267.78 L387.96,270.88 L384.86,273.98 L381.76,270.88Z M389.27,268.92 L392.37,272.02 L389.27,275.12 L386.17,272.02Z M393.68,270 L396.78,273.1 L393.68,276.2 L390.58,273.1Z M398.09,271.19 L401.19,274.29 L398.09,277.39 L394.99,274.29Z M402.5,272.3 L405.6,275.4 L402.5,278.5 L399.4,275.4Z M406.91,273.38 L410.01,276.48 L406.91,279.58 L403.81,276.48Z M411.32,273.95 L414.42,277.05 L411.32,280.15 L408.22,277.05Z M415.73,274.54 L418.83,277.64 L415.73,280.74 L412.63,277.64Z M420.14,274.6 L423.24,277.7 L420.14,280.8 L417.04,277.7Z M424.55,274.42 L427.65,277.52 L424.55,280.62 L421.45,277.52Z M428.96,274.08 L432.06,277.18 L428.96,280.28 L425.86,277.18Z M433.37,272.37 L436.47,275.47 L433.37,278.57 L430.27,275.47Z M437.78,270.72 L440.88,273.82 L437.78,276.92 L434.68,273.82Z M442.19,271.8 L445.29,274.9 L442.19,278 L439.09,274.9Z M446.6,271.9 L449.7,275 L446.6,278.1 L443.5,275Z M451.01,273.37 L454.11,276.47 L451.01,279.57 L447.91,276.47Z M455.42,276.38 L458.52,279.48 L455.42,282.58 L452.32,279.48Z M459.83,281.69 L462.93,284.79 L459.83,287.89 L456.73,284.79Z M464.24,289.34 L467.34,292.44 L464.24,295.54 L461.14,292.44Z M468.65,299.02 L471.75,302.12 L468.65,305.22 L465.55,302.12Z M473.06,312.08 L476.16,315.18 L473.06,318.28 L469.96,315.18Z M477.47,323.65 L480.57,326.75 L477.47,329.85 L474.37,326.75Z M481.88,333.04 L484.98,336.14 L481.88,339.24 L478.78,336.14Z M486.29,338.87 L489.39,341.97 L486.29,345.07 L483.19,341.97Z M490.7,341.16 L493.8,344.26 L490.7,347.36 L487.6,344.26Z M495.11,337.89 L498.21,340.99 L495.11,344.09 L492.01,340.99Z M499.52,331.81 L502.62,334.91 L499.52,338.01 L496.42,334.91Z M503.93,324.14 L507.03,327.24 L503.93,330.34 L500.83,327.24Z M508.34,317.23 L511.44,320.33 L508.34,323.43 L505.24,320.33Z M512.75,309.85 L515.85,312.95 L512.75,316.05 L509.65,312.95Z M517.16,303.19 L520.26,306.29 L517.16,309.39 L514.06,306.29Z M521.57,297.37 L524.67,300.47 L521.57,303.57 L518.47,300.47Z M525.98,291.43 L529.08,294.53 L525.98,297.63 L522.88,294.53Z M530.39,286.31 L533.49,289.41 L530.39,292.51 L527.29,289.41Z M534.8,279.89 L537.9,282.99 L534.8,286.09 L531.7,282.99Z" fill="#0000ff"/>
</g>
<line x1="321.5" y1="314.6" x2="346.6" y2="314.6" stroke="#0000ff" stroke-width="1.8"/>
<path d="M334,311.5 L337.1,314.6 L334,317.7 L330.9,314.6Z" fill="#0000ff"/>
<line x1="321.5" y1="328.4" x2="346.6" y2="328.4" stroke="#ff0000" stroke-width="1.8"/>
<circle cx="334" cy="328.4" r="2.8" fill="#ff0000"/><circle cx="334" cy="327.9" r="0.95" fill="#ffe4e4"/>
<text x="348.8" y="318.7" font-family="'Liberation Serif', 'Times New Roman', serif" font-weight="bold" font-size="11.5" fill="#111" stroke="#111" stroke-width="0.2" textLength="106.3" lengthAdjust="spacingAndGlyphs">Clean Transformer Oil</text>
<text x="348.8" y="332.5" font-family="'Liberation Serif', 'Times New Roman', serif" font-weight="bold" font-size="11.5" fill="#111" stroke="#111" stroke-width="0.2" textLength="107.6" lengthAdjust="spacingAndGlyphs">Waste Transformer Oil</text>
<g>
<path d="M362.5,374.3 L412.5,381.3 M362.5,350.4 L362.5,374.3 M329.3,392.4 L362.5,374.3" fill="none" stroke="#b4b4b4" stroke-width="0.7"/>
<polygon points="339.1,363.3 352.6,355.2 403.6,364.2 392.3,371.1" fill="#0a4a1a"/>
<polygon points="392.3,371.1 403.6,364.2 403.6,387.8 392.3,396.3" fill="#0a4a1a"/>
<polygon points="339.1,363.3 392.3,371.1 392.3,396.3 339.1,388.8" fill="#16d0d2"/>
<path d="M329.3,368.5 L362.5,350.4 L412.5,358.6 L381.8,375.7 M329.3,368.5 L329.3,392.4 L381.8,403.4 L412.5,381.3 L412.5,358.6" fill="none" stroke="#b4b4b4" stroke-width="0.7"/>
<path d="M381.8,375.7 L381.8,403.4 M329.3,368.5 L381.8,375.7" fill="none" stroke="#707070" stroke-width="0.6" opacity="0.45"/>
<g fill="none" stroke="#c6d23a" stroke-width="1.1"><path d="M357.28,372.06 L357.64,371.8 L358.01,371.56 L358.39,371.33 L358.79,371.13 L359.2,370.95 L359.62,370.79 L360.05,370.65 L360.49,370.53 L360.94,370.44 L361.4,370.37 L361.86,370.32 L362.33,370.29 L362.8,370.29 L363.27,370.31 L363.75,370.35 L364.23,370.42 L364.7,370.51 L365.18,370.62 L365.65,370.75 L366.12,370.91 L366.59,371.09 L367.05,371.29 L367.5,371.5 L367.94,371.74 L368.38,372 L368.8,372.28 L369.22,372.58 L369.62,372.89 L370.01,373.22 L370.39,373.57 L370.76,373.94 L371.1,374.31 L371.44,374.71 L371.75,375.11 L372.05,375.53 L372.33,375.96 L372.59,376.39 L372.83,376.84 L373.06,377.3 L373.26,377.76 L373.44,378.23 L373.6,378.7 L373.74,379.18 L373.85,379.66 L373.95,380.14 L374.02,380.62 L374.07,381.1 L374.1,381.58 L374.1,382.06 L374.08,382.54 L374.04,383.01 L373.97,383.47 L373.89,383.92 L373.78,384.37 L373.65,384.81 L373.49,385.24 L373.32,385.66 L373.12,386.06 L372.91,386.46 L372.67,386.84"/><path d="M357.81,371.19 L357.81,378.69 L370.86,380.65"/><path d="M357.28,380.91 L370.36,382.87 L370.36,389.63"/><path d="M356.17,373.12 L355.88,373.48 L355.61,373.85 L355.36,374.24 L355.13,374.64 L354.92,375.05 L354.74,375.48 L354.58,375.92 L354.44,376.37 L354.32,376.84 L354.23,377.31 L354.16,377.78 L354.12,378.27 L354.1,378.76 L354.11,379.25 L354.14,379.75 L354.19,380.24 L354.27,380.74 L354.37,381.24 L354.49,381.73 L354.64,382.23 L354.81,382.71 L355.01,383.19 L355.22,383.67 L355.46,384.14 L355.72,384.59 L356,385.04 L356.29,385.48 L356.61,385.9 L356.95,386.31 L357.3,386.71 L357.67,387.09 L358.05,387.46 L358.45,387.8 L358.86,388.13 L359.29,388.45 L359.73,388.74 L360.18,389.01 L360.63,389.26 L361.1,389.49 L361.57,389.7 L362.05,389.88 L362.54,390.04 L363.02,390.18 L363.51,390.3 L364.01,390.39 L364.5,390.45 L364.99,390.49 L365.48,390.51 L365.97,390.5 L366.45,390.47 L366.92,390.42 L367.39,390.34 L367.85,390.23 L368.3,390.1 L368.75,389.95 L369.18,389.78 L369.59,389.58 L370,389.36 L370.39,389.12 L370.76,388.86"/></g>
<text transform="translate(360.2,364.4) rotate(7)" font-family="'Liberation Sans', Arial, sans-serif" font-size="7" fill="#c6d23a" stroke="#c6d23a" stroke-width="0.2" textLength="29" lengthAdjust="spacingAndGlyphs">Oil sample</text>
<line x1="407" y1="397.6" x2="407" y2="390.3" stroke="#40b040" stroke-width="0.9"/>
<line x1="407" y1="397.6" x2="413.6" y2="398.9" stroke="#c04040" stroke-width="0.9"/>
<line x1="407" y1="397.6" x2="402.3" y2="400.3" stroke="#3030b0" stroke-width="1.1"/>
</g>
</svg></body></html>
